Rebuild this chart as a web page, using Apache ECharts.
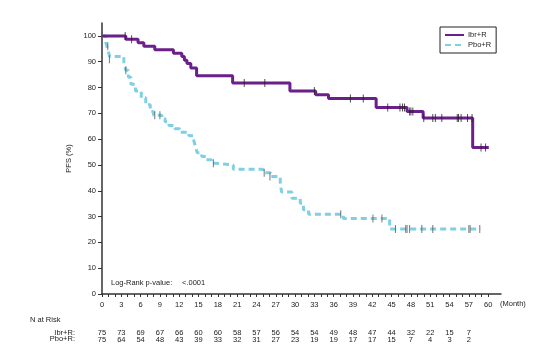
<!DOCTYPE html>
<html>
<head>
<meta charset="utf-8">
<script src="https://cdn.jsdelivr.net/npm/echarts@6/dist/echarts.min.js"></script>
<style>
html, body { margin: 0; padding: 0; background: #fff; }
#main { width: 542px; height: 354px; }
</style>
</head>
<body>
<div id="main"></div>
<script>
// tick labels
var monthTicks = [0, 3, 6, 9, 12, 15, 18, 21, 24, 27, 30, 33, 36, 39, 42, 45, 48, 51, 54, 57, 60];
var monthMinor = [];
for (var m = 0; m <= 60; m++) monthMinor.push(m);
var pfsTicks = [0, 10, 20, 30, 40, 50, 60, 70, 80, 90, 100];

// number at risk (every 3 months)
var riskIbr = [75, 73, 69, 67, 66, 60, 60, 58, 57, 56, 54, 54, 49, 48, 47, 44, 32, 22, 15, 7];
var riskPbo = [75, 64, 54, 48, 43, 39, 33, 32, 31, 27, 23, 19, 19, 17, 17, 15, 7, 4, 3, 2];

// KM steps: time of event (months) and PFS (%) after it
var ibrTime = [0, 3.7, 5.6, 6.5, 8.2, 11.1, 12.4, 12.8, 13.2, 13.8, 14.7, 20.3, 29.2, 33.2, 35.2, 42.6, 47.4, 49.9, 57.6, 60.1];
var ibrSurv = [100, 98.7, 97.3, 96.0, 94.6, 93.3, 92.0, 90.6, 89.3, 87.6, 84.6, 81.8, 78.7, 77.2, 75.7, 72.3, 70.7, 68.2, 56.8, 56.8];
var pboTime = [0, 0.6, 0.9, 1.2, 3.4, 3.7, 4.1, 4.5, 5.2, 6.1, 6.8, 7.5, 8.0, 9.3, 9.8, 10.4, 11.3, 12.1, 13.5, 14.2, 14.5, 14.8, 15.5, 16.2, 17.0, 17.6, 20.4, 25.0, 26.2, 27.7, 27.9, 29.5, 30.8, 31.3, 32.1, 37.5, 44.7, 58.8];
var pboSurv = [100, 97.3, 94.7, 92.0, 89.3, 86.7, 84.0, 81.3, 78.7, 76.0, 73.3, 70.7, 69.3, 68.0, 66.7, 65.3, 64.0, 62.7, 61.3, 60.0, 57.3, 54.7, 53.3, 52.0, 50.7, 50.0, 48.3, 47.0, 45.5, 43.0, 39.5, 37.1, 35.2, 32.6, 30.9, 29.3, 25.2, 25.2];

// censored observations
var ibrCensT = [3.6, 4.6, 22.1, 25.3, 33.0, 38.6, 40.6, 44.4, 46.3, 46.7, 47.0, 47.8, 48.0, 48.3, 50.0, 51.4, 51.8, 52.8, 55.2, 55.4, 55.8, 56.8, 57.5, 58.9, 59.6];
var ibrCensS = [100, 98.7, 81.8, 81.8, 78.7, 75.7, 75.7, 72.3, 72.3, 72.3, 72.3, 70.7, 70.7, 70.7, 68.2, 68.2, 68.2, 68.2, 68.2, 68.2, 68.2, 68.2, 68.2, 56.8, 56.8];
var pboCensT = [0, 0.9, 1.15, 3.7, 8.2, 9.0, 17.3, 25.2, 26.1, 37.1, 42.1, 43.5, 45.6, 47.2, 47.4, 47.8, 49.7, 51.4, 57.0, 57.2, 58.7];
var pboCensS = [100, 96.0, 91.0, 86.7, 69.3, 69.3, 50.7, 47.0, 45.5, 30.9, 29.3, 29.3, 25.2, 25.2, 25.2, 25.2, 25.2, 25.2, 25.2, 25.2, 25.2];

function pairs(xs, ys) {
  return xs.map(function (x, i) { return [x, ys[i]]; });
}

var chart = echarts.init(document.getElementById('main'));
var font = 'Liberation Sans';
var txt = '#222';

function riskAxis(arr, offset) {
  return {
    type: 'value', min: 0, max: 62, interval: 3, position: 'bottom', offset: offset,
    axisLine: { show: false }, axisTick: { show: false }, splitLine: { show: false },
    axisLabel: {
      margin: 6, fontSize: 7.5, fontFamily: font, color: txt,
      formatter: function (v) {
        var i = Math.round(v / 3);
        return (v % 3 === 0 && i < arr.length) ? String(arr[i]) : '';
      }
    }
  };
}

var option = {
  animation: false,
  grid: { left: 102, right: 41, top: 23, bottom: 60 },
  legend: {
    data: ['Ibr+R', 'Pbo+R'],
    orient: 'vertical',
    left: 440, top: 27,
    padding: [4, 5, 4, 4],
    itemGap: 2,
    itemWidth: 19, itemHeight: 6,
    borderColor: '#222', borderWidth: 1,
    itemStyle: { opacity: 0 },
    textStyle: { fontSize: 7.5, fontFamily: font, color: txt, padding: [0, 0, 0, -1] }
  },
  xAxis: [{
    type: 'value', min: 0, max: 62,
    axisLine: { lineStyle: { color: '#333', width: 1.5 } },
    axisTick: { customValues: monthMinor, length: 3, lineStyle: { color: '#333' } },
    axisLabel: { customValues: monthTicks, margin: 7, fontSize: 7.5, fontFamily: font, color: txt },
    splitLine: { show: false }
  }, riskAxis(riskIbr, 29), riskAxis(riskPbo, 35.5)],
  yAxis: {
    type: 'value', min: 0, max: 105,
    name: 'PFS (%)', nameLocation: 'middle', nameGap: 22,
    nameTextStyle: { fontSize: 7.5, fontFamily: font, color: txt },
    axisLine: { show: true, lineStyle: { color: '#333', width: 1.5 } },
    axisTick: { show: true, customValues: pfsTicks, length: 4, lineStyle: { color: '#333' } },
    axisLabel: { customValues: pfsTicks, margin: 6, fontSize: 7.5, fontFamily: font, color: txt },
    splitLine: { show: false }
  },
  series: [
    {
      name: 'Pbo+R', type: 'line', step: 'end', symbol: 'none',
      data: pairs(pboTime, pboSurv),
      itemStyle: { color: '#7fd0e2' },
      lineStyle: { color: '#7fd0e2', width: 3, type: [6, 4] },
      emphasis: { disabled: true }
    },
    {
      name: 'Ibr+R', type: 'line', step: 'end', symbol: 'none',
      data: pairs(ibrTime, ibrSurv),
      itemStyle: { color: '#6b1f88' },
      lineStyle: { color: '#6b1f88', width: 3 },
      emphasis: { disabled: true }
    },
    {
      name: 'Pbo+R censored', type: 'scatter', symbol: 'rect', symbolSize: [1, 8],
      data: pairs(pboCensT, pboCensS), itemStyle: { color: '#555' }, z: 5
    },
    {
      name: 'Ibr+R censored', type: 'scatter', symbol: 'rect', symbolSize: [1, 8],
      data: pairs(ibrCensT, ibrCensS), itemStyle: { color: '#222' }, z: 5
    }
  ],
  graphic: [
    { type: 'text', left: 111, top: 279, style: { text: 'Log-Rank p-value:', fontSize: 7.5, fontFamily: font, fill: txt } },
    { type: 'text', left: 182, top: 279, style: { text: '<.0001', fontSize: 7.5, fontFamily: font, fill: txt } },
    { type: 'text', left: 500, top: 300, style: { text: '(Month)', fontSize: 7.5, fontFamily: font, fill: txt } },
    { type: 'text', left: 30, top: 316, style: { text: 'N at Risk', fontSize: 7.5, fontFamily: font, fill: txt } },
    { type: 'text', right: 467, top: 328.5, style: { text: 'Ibr+R:', fontSize: 7.5, fontFamily: font, fill: txt } },
    { type: 'text', right: 467, top: 335, style: { text: 'Pbo+R:', fontSize: 7.5, fontFamily: font, fill: txt } }
  ]
};
chart.setOption(option);
</script>
</body>
</html>
